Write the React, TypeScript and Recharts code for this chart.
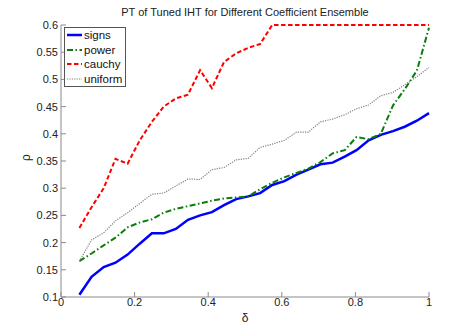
import React from 'react';
import { LineChart, Line, XAxis, YAxis, Legend } from 'recharts';

// delta sample points
const DELTA = [0.05, 0.083, 0.116, 0.148, 0.181, 0.214, 0.247, 0.279, 0.312, 0.345, 0.378, 0.41, 0.443, 0.476, 0.509,
  0.541, 0.574, 0.607, 0.64, 0.672, 0.705, 0.738, 0.771, 0.803, 0.836, 0.869, 0.902, 0.934, 0.967, 1.0];

const SIGNS = [0.104, 0.137, 0.155, 0.163, 0.178, 0.198, 0.217, 0.217, 0.225, 0.242, 0.25, 0.256, 0.269, 0.28, 0.285,
  0.291, 0.306, 0.313, 0.325, 0.334, 0.344, 0.347, 0.358, 0.37, 0.388, 0.398, 0.405, 0.413, 0.424, 0.438];
const POWER = [0.166, 0.18, 0.195, 0.209, 0.228, 0.237, 0.243, 0.255, 0.262, 0.267, 0.272, 0.277, 0.281, 0.283, 0.285,
  0.298, 0.31, 0.32, 0.328, 0.336, 0.348, 0.364, 0.37, 0.394, 0.39, 0.4, 0.452, 0.482, 0.516, 0.595];
const CAUCHY = [0.227, 0.265, 0.3, 0.354, 0.345, 0.388, 0.422, 0.45, 0.465, 0.472, 0.517, 0.484, 0.532, 0.548, 0.558,
  0.565, 0.6, 0.6, 0.6, 0.6, 0.6, 0.6, 0.6, 0.6, 0.6, 0.6, 0.6, 0.6, 0.6, 0.6];
const UNIFORM = [0.166, 0.205, 0.218, 0.24, 0.255, 0.272, 0.289, 0.291, 0.304, 0.317, 0.316, 0.334, 0.338, 0.352, 0.355,
  0.375, 0.381, 0.388, 0.403, 0.403, 0.422, 0.427, 0.435, 0.446, 0.453, 0.47, 0.476, 0.49, 0.505, 0.522];

const X_TICKS = [0, 0.2, 0.4, 0.6, 0.8, 1];
const Y_TICKS = [0.1, 0.15, 0.2, 0.25, 0.3, 0.35, 0.4, 0.45, 0.5, 0.55, 0.6];

const TITLE = 'PT of Tuned IHT for Different Coefficient Ensemble';

const SERIES = [
  { key: 'signs', color: '#0000ff', width: 2.5, dash: undefined },
  { key: 'power', color: '#0a7d0a', width: 2, dash: '6 2.5 1.5 2.5' },
  { key: 'cauchy', color: '#ff0000', width: 2, dash: '4.5 2.5' },
  { key: 'uniform', color: '#808080', width: 1.2, dash: '1.2 1.2' },
];

const data = DELTA.map((d, i) => ({
  delta: d,
  signs: SIGNS[i],
  power: POWER[i],
  cauchy: CAUCHY[i],
  uniform: UNIFORM[i],
}));

const FONT = '"Liberation Sans", Arial, sans-serif';
const AXIS = '#8a8a8a';
const fmt = (v: number) => String(+v.toFixed(2));

const LegendBox = (props: any) => {
  const keys = (props.payload || []).map((it: any) => it.dataKey);
  // keep the plotting order, not the legend's alphabetical sort
  const items = SERIES.filter(s => keys.includes(s.key));
  return (
    <div style={{ border: '1px solid #555', background: '#fff', fontFamily: FONT, fontSize: 11.5, color: '#111', paddingRight: 3 }}>
      {items.map(s => (
        <div key={s.key} style={{ display: 'flex', alignItems: 'center', height: 14.5 }}>
          <svg width={19} height={14} style={{ display: 'block' }}>
            <line x1={2} y1={7} x2={17} y2={7} stroke={s.color} strokeWidth={s.width} strokeDasharray={s.dash} />
          </svg>
          <span>{s.key}</span>
        </div>
      ))}
    </div>
  );
};

export default function App() {
  return (
    <div style={{ position: 'absolute', left: 0, top: 0, width: 474, height: 333, background: '#fff' }}>
      <div style={{ position: 'absolute', left: 61, top: 6, width: 368, textAlign: 'center', fontFamily: FONT, fontSize: 11, lineHeight: '13px', color: '#222' }}>
        {TITLE}
      </div>
      <LineChart width={474} height={333} data={data} margin={{ top: 25, right: 45, left: 0, bottom: 0 }}>
        <XAxis dataKey="delta" type="number" domain={[0, 1]} ticks={X_TICKS} tickFormatter={fmt}
          height={36} stroke={AXIS} tickSize={-5} tickMargin={6}
          tick={{ fill: '#222', fontSize: 11, fontFamily: FONT }}
          label={{ value: 'δ', position: 'insideBottom', offset: 11, fill: '#222', fontSize: 12, fontFamily: FONT }} />
        <XAxis xAxisId="top" orientation="top" type="number" domain={[0, 1]} ticks={X_TICKS} tickFormatter={() => ''}
          height={0} stroke={AXIS} tickSize={-5} />
        <YAxis type="number" domain={[0.1, 0.6]} ticks={Y_TICKS} tickFormatter={fmt} width={61}
          stroke={AXIS} tickSize={-5} tickMargin={8} interval={0}
          tick={{ fill: '#222', fontSize: 11, fontFamily: FONT }}
          label={{ value: 'ρ', angle: -90, position: 'insideLeft', offset: 26, fill: '#222', fontSize: 12, fontFamily: FONT }} />
        <YAxis yAxisId="right" orientation="right" type="number" domain={[0.1, 0.6]} ticks={Y_TICKS} tickFormatter={() => ''}
          width={0} stroke={AXIS} tickSize={-5} interval={0} />
        <Legend layout="vertical" align="center" verticalAlign="middle" content={LegendBox}
          wrapperStyle={{ position: 'absolute', left: 64, top: 27, width: 'auto' }} />
        {SERIES.map(s => (
          <Line key={s.key} dataKey={s.key} type="linear" stroke={s.color} strokeWidth={s.width}
            strokeDasharray={s.dash} dot={false} isAnimationActive={false} />
        ))}
      </LineChart>
    </div>
  );
}
